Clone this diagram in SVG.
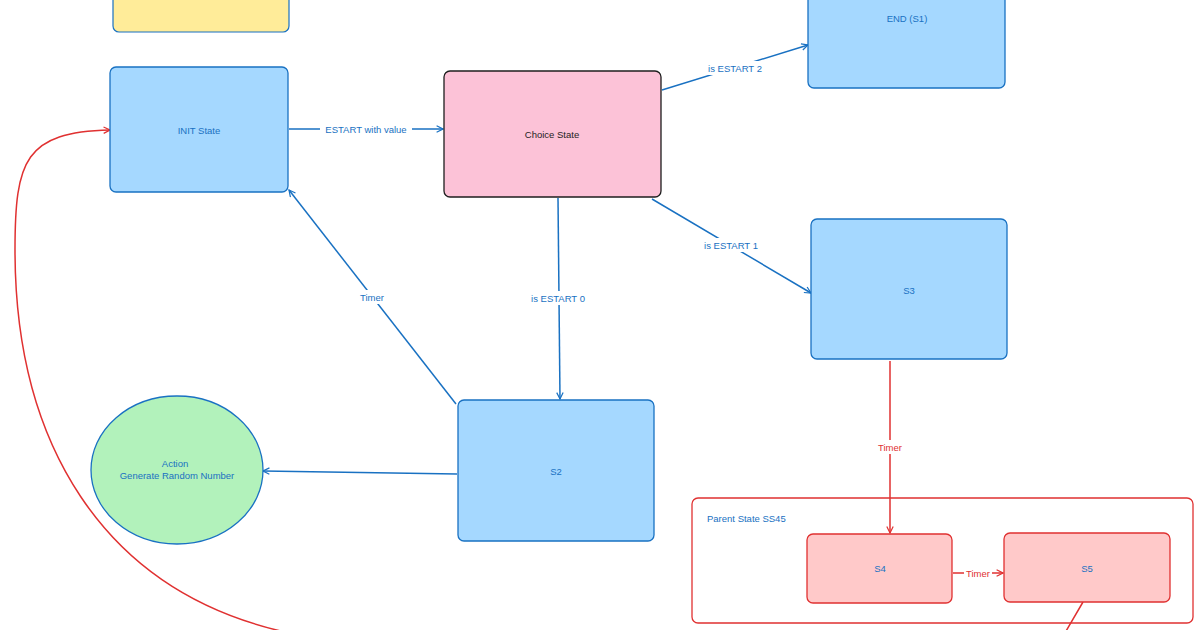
<svg xmlns="http://www.w3.org/2000/svg" width="1200" height="630" viewBox="0 0 1200 630">
<defs>
<marker id="ab" viewBox="0 0 10 10" refX="9" refY="5" markerWidth="8" markerHeight="8" orient="auto-start-reverse" markerUnits="userSpaceOnUse"><path d="M1,1 L9,5 L1,9" fill="none" stroke="#1971c2" stroke-width="1.5"/></marker>
<marker id="ar" viewBox="0 0 10 10" refX="9" refY="5" markerWidth="8" markerHeight="8" orient="auto-start-reverse" markerUnits="userSpaceOnUse"><path d="M1,1 L9,5 L1,9" fill="none" stroke="#e03131" stroke-width="1.5"/></marker>
</defs>
<style>
text{font-family:"Liberation Sans",Arial,sans-serif;font-size:9.5px;fill:#1971c2;text-anchor:middle;dominant-baseline:central}
.blue{fill:#a5d8ff;stroke:#1971c2;stroke-width:1.3}
.red{fill:#ffc9c9;stroke:#e03131;stroke-width:1.3}
.eb{fill:none;stroke:#1971c2;stroke-width:1.5}
.er{fill:none;stroke:#e03131;stroke-width:1.5}
.lbl{fill:#ffffff}
text.rt{fill:#e03131}
</style>
<rect width="1200" height="630" fill="#ffffff"/>
<g id="note"><rect x="113" y="-12" width="176" height="44" rx="6" fill="#ffec99" stroke="#1971c2" stroke-width="1.2"/></g>
<g id="parent"><rect x="692" y="498" width="501" height="125" rx="6" fill="none" stroke="#e03131" stroke-width="1.3"/><text x="707" y="518" style="text-anchor:start">Parent State SS45</text></g>
<g id="connectors">
<path class="eb" d="M289,129 L443,129" marker-end="url(#ab)"/>
<rect class="lbl" x="320" y="122" width="92" height="14"/><text x="366" y="129">ESTART with value</text>
<path class="eb" d="M662,90 L808,45" marker-end="url(#ab)"/>
<rect class="lbl" x="703" y="61" width="64" height="14"/><text x="735" y="68">is ESTART 2</text>
<path class="eb" d="M652,199 L811,293" marker-end="url(#ab)"/>
<rect class="lbl" x="700" y="238" width="62" height="14"/><text x="731" y="245">is ESTART 1</text>
<path class="eb" d="M558,198 L560,399" marker-end="url(#ab)"/>
<rect class="lbl" x="526" y="291" width="64" height="14"/><text x="558" y="298">is ESTART 0</text>
<path class="eb" d="M456,404 L289,190" marker-end="url(#ab)"/>
<rect class="lbl" x="357" y="290" width="30" height="14"/><text x="372" y="297">Timer</text>
<path class="eb" d="M457,474 L263,471" marker-end="url(#ab)"/>
<path class="er" d="M890,361 L890,533" marker-end="url(#ar)"/>
<rect class="lbl" x="875" y="440" width="30" height="14"/><text class="rt" x="890" y="447">Timer</text>
<path class="er" d="M953,573 L1003,573" marker-end="url(#ar)"/>
<rect class="lbl" x="964" y="567" width="28" height="12" fill="#ffffff"/><text class="rt" x="978" y="573">Timer</text>
<path class="er" d="M1083,602 L1055,650 C700,720 400,680 285,632 C100,590 15,440 15,250 C15,160 25,132 110,130" marker-end="url(#ar)"/>
</g>
<g id="init"><rect class="blue" x="110" y="67" width="178" height="125" rx="6"/><text x="199" y="130">INIT State</text></g>
<g id="choice"><rect x="444" y="71" width="217" height="126" rx="6" fill="#fcc2d7" stroke="#1e1e1e" stroke-width="1.3"/><text x="552" y="134" style="fill:#1e1e1e">Choice State</text></g>
<g id="end"><rect class="blue" x="808" y="-12" width="197" height="100" rx="6"/><text x="907" y="18">END (S1)</text></g>
<g id="s3"><rect class="blue" x="811" y="219" width="196" height="140" rx="6"/><text x="909" y="290">S3</text></g>
<g id="s2"><rect class="blue" x="458" y="400" width="196" height="141" rx="6"/><text x="556" y="471">S2</text></g>
<g id="action"><ellipse cx="177" cy="470" rx="86" ry="74" fill="#b2f2bb" stroke="#1971c2" stroke-width="1.3"/><text x="175" y="463">Action</text><text x="177" y="475">Generate Random Number</text></g>
<g id="s4"><rect class="red" x="807" y="534" width="145" height="69" rx="6"/><text x="880" y="568">S4</text></g>
<g id="s5"><rect class="red" x="1004" y="533" width="166" height="69" rx="6"/><text x="1087" y="568">S5</text></g>
</svg>
